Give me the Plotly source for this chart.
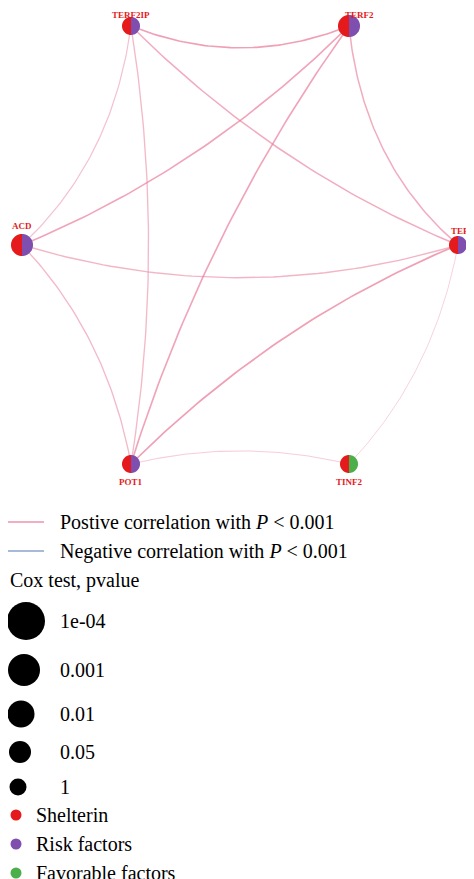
import numpy as np
import plotly.graph_objects as go

genes = ["TERF2IP", "TERF2", "TERF1", "TINF2", "POT1", "ACD"]
gene_factor = ["Risk", "Risk", "Risk", "Favorable", "Risk", "Risk"]
gene_cox_p = [0.05, 0.001, 0.05, 0.05, 0.05, 0.001]
edges_a = ["TERF2IP", "TERF2IP", "TERF2IP", "TERF2IP", "TERF2", "TERF2", "TERF2", "ACD", "ACD", "POT1", "POT1", "TINF2"]
edges_b = ["TERF2", "ACD", "POT1", "TERF1", "ACD", "POT1", "TERF1", "TERF1", "POT1", "TERF1", "TINF2", "TERF1"]
edges_cor = [0.75, 0.35, 0.45, 0.6, 0.7, 0.7, 0.6, 0.5, 0.45, 0.75, 0.2, 0.15]
edges_bend = [0.2, 0.18, 0.08, 0.1, 0.1, 0.08, 0.2, -0.15, 0.15, 0.1, 0.12, -0.15]
pval_labels = ["1e-04", "0.001", "0.01", "0.05", "1"]
pval_sizes = [38, 32, 27, 22, 17]
factor_names = ["Shelterin", "Risk factors", "Favorable factors"]
factor_colors = ["#e41a1c", "#7e4fae", "#4daf4a"]

W, H = 474, 879
cx, cy, rx, ry = 232, 237, 218, 219 / np.sin(np.pi / 3)
angles = [120, 60, 0, -60, -120, 180]
pos = {g: (cx + rx * np.cos(np.radians(a)), cy - ry * np.sin(np.radians(a))) for g, a in zip(genes, angles)}
psize = {1e-4: 12, 0.001: 11, 0.01: 10, 0.05: 9, 1: 8}

fig = go.Figure()
for a, b, c, bend in zip(edges_a, edges_b, edges_cor, edges_bend):
    (x0, y0), (x1, y1) = pos[a], pos[b]
    mx, my = (x0 + x1) / 2, (y0 + y1) / 2
    dx, dy = cx - mx, cy - my
    d = np.hypot(dx, dy)
    L = np.hypot(x1 - x0, y1 - y0)
    if d < 1:
        nx, ny = (y1 - y0) / L, -(x1 - x0) / L
        if ny < 0:
            nx, ny = -nx, -ny
        nx, ny = -nx, -ny
    else:
        nx, ny = dx / d, dy / d
    qx, qy = mx + nx * bend * L, my + ny * bend * L
    t = np.linspace(0, 1, 60)
    xs = (1 - t) ** 2 * x0 + 2 * (1 - t) * t * qx + t ** 2 * x1
    ys = (1 - t) ** 2 * y0 + 2 * (1 - t) * t * qy + t ** 2 * y1
    fig.add_trace(go.Scatter(x=xs, y=ys, mode="lines", hoverinfo="skip", showlegend=False,
                             line=dict(color=f"rgba(232,120,150,{0.25 + 0.6 * c:.2f})", width=0.8 + 1.2 * c)))

shapes = []
def half(x, y, r, side, color):
    ts = np.linspace(np.pi / 2, 3 * np.pi / 2, 30) if side == "L" else np.linspace(-np.pi / 2, np.pi / 2, 30)
    pts = " L".join(f"{x + r*np.cos(t):.2f},{y - r*np.sin(t):.2f}" for t in ts)
    return dict(type="path", path=f"M{pts} Z", fillcolor=color, line=dict(width=0), xref="x", yref="y", layer="above")

lab_font = dict(family="Liberation Serif", size=9, color="#e41a1c")
for g, f, p in zip(genes, gene_factor, gene_cox_p):
    x, y = pos[g]
    r = psize[p]
    shapes.append(half(x, y, r, "L", factor_colors[0]))
    shapes.append(half(x, y, r, "R", factor_colors[1] if f == "Risk" else factor_colors[2]))
    if g == "TERF1":
        fig.add_annotation(x=W, y=y - r + 2, text=f"<b>{g}</b>", showarrow=False, xanchor="right",
                           yanchor="bottom", font=lab_font)
    elif y < 100:
        fig.add_annotation(x=x + (10 if g == "TERF2" else 0), y=0, text=f"<b>{g}</b>", showarrow=False,
                           yanchor="top", font=lab_font)
    else:
        above = y < 300
        fig.add_annotation(x=x, y=y - r - 1 if above else y + r + 2, text=f"<b>{g}</b>", showarrow=False,
                           yanchor="bottom" if above else "top", font=lab_font)

serif = dict(family="Liberation Serif", size=20, color="black")
legend_lines = [("Postive correlation with <i>P</i> < 0.001", "rgba(232,120,150,0.8)", 514),
                ("Negative correlation with <i>P</i> < 0.001", "#8aa4cc", 543)]
for txt, col, yy in legend_lines:
    fig.add_trace(go.Scatter(x=[0, 36], y=[yy, yy], mode="lines", line=dict(color=col, width=1.3),
                             showlegend=False, hoverinfo="skip"))
    fig.add_annotation(x=50, y=yy, text=txt, showarrow=False, xanchor="left", font=serif)
fig.add_annotation(x=0, y=572, text="Cox test, pvalue", showarrow=False, xanchor="left", font=serif)
pys = [613, 662, 706, 744, 779]
pxs = [18, 16, 13, 12, 10]
fig.add_trace(go.Scatter(x=pxs, y=pys, mode="markers", cliponaxis=False,
                         marker=dict(size=pval_sizes, color="black", opacity=1, line=dict(width=0)),
                         showlegend=False, hoverinfo="skip"))
for lab, yy in zip(pval_labels, pys):
    fig.add_annotation(x=50, y=yy, text=lab, showarrow=False, xanchor="left", font=serif)
fys = [807, 836, 865]
fig.add_trace(go.Scatter(x=[8] * 3, y=fys, mode="markers",
                         marker=dict(size=11, color=factor_colors, opacity=1, line=dict(width=0)),
                         showlegend=False, hoverinfo="skip"))
for lab, yy in zip(factor_names, fys):
    fig.add_annotation(x=26, y=yy, text=lab, showarrow=False, xanchor="left", font=serif)

fig.update_layout(width=W, height=H, margin=dict(l=0, r=0, t=0, b=0), plot_bgcolor="white",
                  paper_bgcolor="white", shapes=shapes,
                  xaxis=dict(range=[0, W], visible=False, fixedrange=True),
                  yaxis=dict(range=[H, 0], visible=False, fixedrange=True))
fig.write_html("out.html")
